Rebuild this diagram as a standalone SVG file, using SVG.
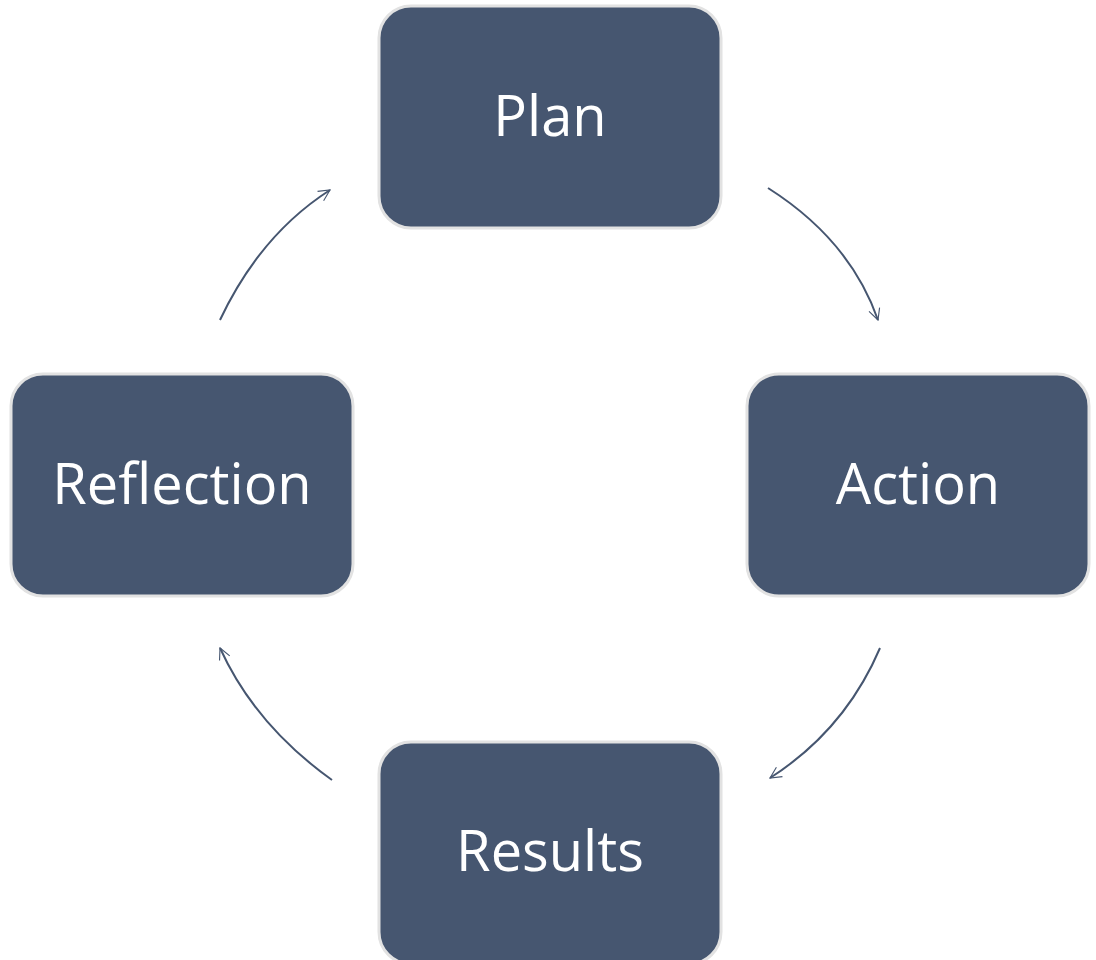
<svg xmlns="http://www.w3.org/2000/svg" width="1096" height="960" viewBox="0 0 1096 960">
<style>
.box{fill:#465670;stroke:#e2e2e2;stroke-width:3}
.lbl{fill:#fff;font-family:"Open Sans","Liberation Sans",sans-serif;font-size:56px;text-anchor:middle}
.con{fill:none;stroke:#465670;stroke-width:2;marker-end:url(#a)}
</style>
<defs><marker id="a" viewBox="0 0 20 20" refX="18" refY="10" markerWidth="14" markerHeight="14" markerUnits="userSpaceOnUse" orient="auto"><path d="M2 2L18 10L2 18" fill="none" stroke="#465670" stroke-width="1.6"/></marker></defs>
<rect width="1096" height="960" fill="#fff"/>
<g id="plan"><rect class="box" x="379" y="6" width="342" height="222" rx="32"/><text class="lbl" x="550" y="136">Plan</text></g>
<g id="action"><rect class="box" x="747" y="374" width="342" height="222" rx="32"/><text class="lbl" x="918" y="504">Action</text></g>
<g id="results"><rect class="box" x="379" y="742" width="342" height="222" rx="32"/><text class="lbl" x="550" y="871">Results</text></g>
<g id="reflection"><rect class="box" x="11" y="374" width="342" height="222" rx="32"/><text class="lbl" x="182" y="504">Reflection</text></g>
<g id="connectors">
<path class="con" d="M768 188Q850 240 878 320"/>
<path class="con" d="M880 648Q845 730 770 778"/>
<path class="con" d="M332 780Q255 725 220 648"/>
<path class="con" d="M220 320Q260 235 330 190"/>
</g>
</svg>
